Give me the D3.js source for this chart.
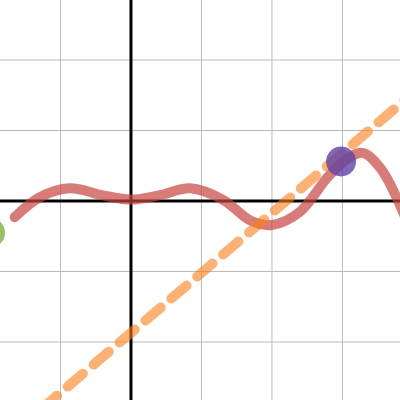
<!DOCTYPE html>
<html><head><meta charset="utf-8">
<script src="https://cdn.jsdelivr.net/npm/d3@7"></script>
<style>body{margin:0;background:#fff}svg{display:block}</style>
</head><body>
<svg id="c" width="400" height="400"></svg>
<script>
const gridTicks = [-1, 0, 1, 2, 3];
const curveX = [-1.65,-1.3,-0.87,-0.4,0,0.4,0.84,1.3,1.7,2.0,2.4,2.8,3.1,3.3,3.55,3.9];
const curveY = [-0.23,0.05,0.18,0.08,0.02,0.08,0.18,0.02,-0.28,-0.34,-0.15,0.35,0.62,0.68,0.45,-0.25];
const lineSlope = [0.85];
const lineIntercept = [-1.87];
const pointX = [2.98, -2.0];
const pointY = [0.56, -0.45];
const pointColors = ["#6042a6", "#7fb241"];

const svg = d3.select("#c");
const x = d3.scaleLinear().domain([-1.858, 3.816]).range([0, 400]);
const y = d3.scaleLinear().domain([-2.823, 2.851]).range([400, 0]);

const g = svg.append("g");
g.selectAll(".vg").data(gridTicks).join("line")
  .attr("x1", d => x(d)).attr("x2", d => x(d)).attr("y1", 0).attr("y2", 400)
  .attr("stroke", "#bbb").attr("stroke-width", 1);
const yTicks = [-2, -1, 0, 1, 2];
g.selectAll(".hg").data(yTicks).join("line")
  .attr("y1", d => y(d)).attr("y2", d => y(d)).attr("x1", 0).attr("x2", 400)
  .attr("stroke", "#bbb").attr("stroke-width", 1);

svg.append("line").attr("x1", x(0)).attr("x2", x(0)).attr("y1", 0).attr("y2", 400)
  .attr("stroke", "#000").attr("stroke-width", 3);
svg.append("line").attr("y1", y(0)).attr("y2", y(0)).attr("x1", 0).attr("x2", 400)
  .attr("stroke", "#000").attr("stroke-width", 3);

const pts = curveX.map((v, i) => [v, curveY[i]]);
svg.append("path").datum(pts)
  .attr("d", d3.line().x(d => x(d[0])).y(d => y(d[1])).curve(d3.curveCatmullRom))
  .attr("fill", "none").attr("stroke", "#c74440").attr("stroke-opacity", 0.7)
  .attr("stroke-width", 10).attr("stroke-linecap", "round");

const xs = [-2, 4];
svg.append("path").datum(xs.map(v => [v, lineSlope[0] * v + lineIntercept[0]]))
  .attr("d", d3.line().x(d => x(d[0])).y(d => y(d[1])))
  .attr("fill", "none").attr("stroke", "#fa7e19").attr("stroke-opacity", 0.6)
  .attr("stroke-width", 10).attr("stroke-dasharray", "20,14").attr("stroke-linecap", "round");

svg.selectAll(".pt").data(pointX).join("circle")
  .attr("cx", d => x(d)).attr("cy", (d, i) => y(pointY[i])).attr("r", 15)
  .attr("fill", (d, i) => pointColors[i]).attr("fill-opacity", 0.8);
</script>
</body></html>
